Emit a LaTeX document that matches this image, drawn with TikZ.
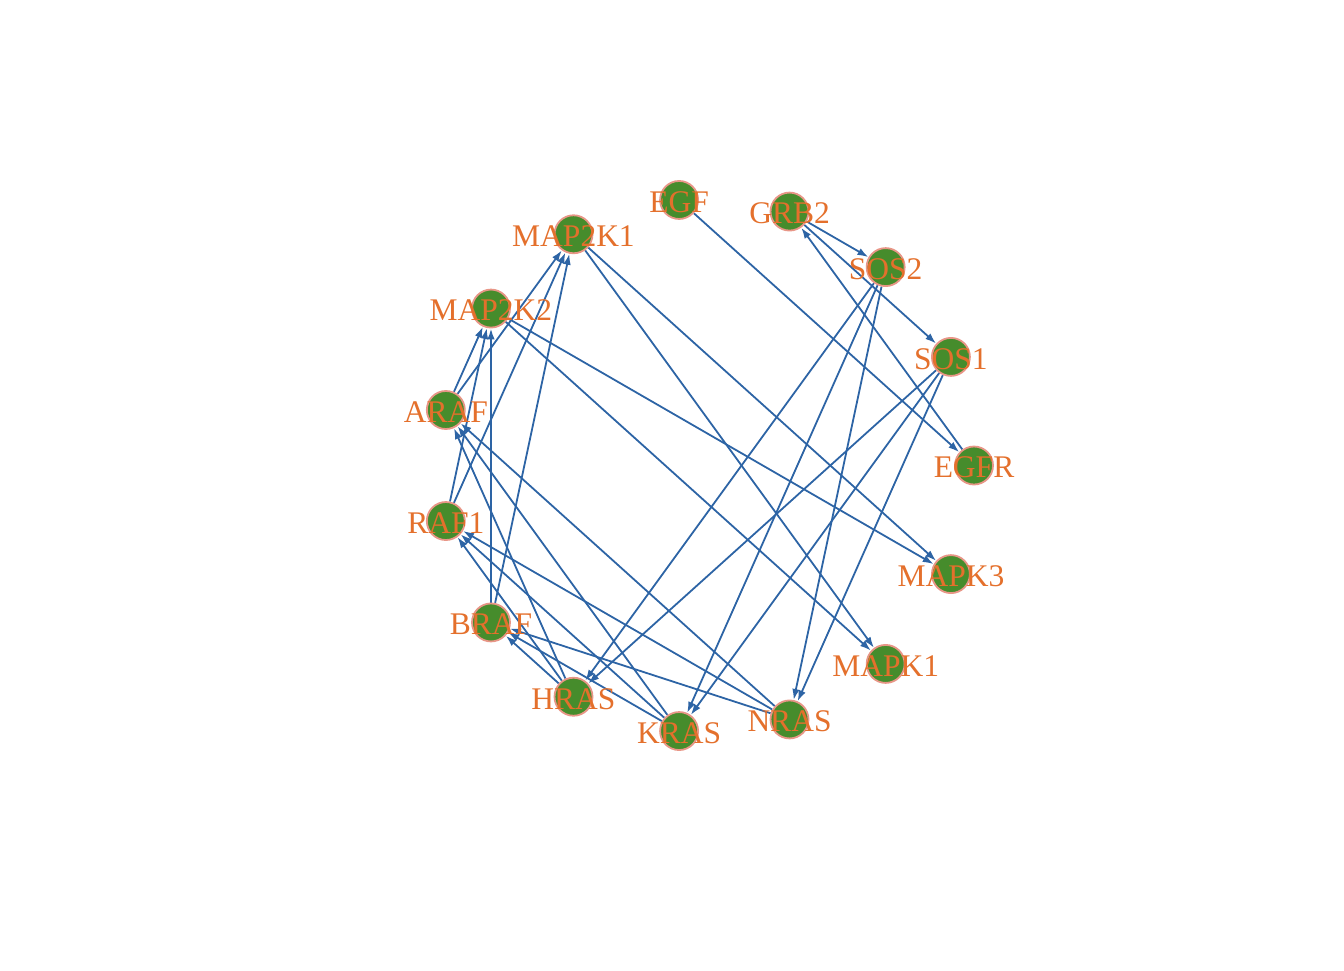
\documentclass[tikz,border=0pt]{standalone}
\usepackage{fontspec}
\setmainfont{Liberation Serif}
\usetikzlibrary{arrows.meta}
\pgfdeclarelayer{background}
\pgfsetlayers{background,main}
\definecolor{nodefill}{RGB}{70,140,44}
\definecolor{nodeedge}{RGB}{232,150,135}
\definecolor{labcol}{RGB}{228,112,44}
\definecolor{edgecol}{RGB}{45,100,165}
\tikzset{
  gene/.style={circle, draw=nodeedge, line width=1.8pt, fill=nodefill, minimum size=38pt, inner sep=0pt},
  genelab/.style={text=labcol, font=\fontsize{31.5}{31.5}\selectfont, inner sep=0pt, yshift=-2pt},
  link/.style={draw=edgecol, line width=1.8pt, -{Latex[length=11pt,width=7.5pt]}}
}
\begin{document}
\begin{tikzpicture}[x=1pt,y=-1pt]
\useasboundingbox (0,0) rectangle (1344,970);
\foreach \nm [count=\k from 0] in {EGF,GRB2,SOS2,SOS1,EGFR,MAPK3,MAPK1,NRAS,KRAS,HRAS,BRAF,RAF1,ARAF,MAP2K2,MAP2K1}{
  \pgfmathsetmacro{\th}{-6+24*\k}
  \node[gene, label={[genelab]center:\nm}] (\nm) at ({707+267*sin(\th)},{465.5-267*cos(\th)}) {};
}
\begin{pgfonlayer}{background}
\draw[link] (EGF) -- (EGFR);
\draw[link] (EGFR) -- (GRB2);
\draw[link] (GRB2) -- (SOS2);
\draw[link] (GRB2) -- (SOS1);
\draw[link] (SOS2) -- (HRAS);
\draw[link] (SOS2) -- (KRAS);
\draw[link] (SOS2) -- (NRAS);
\draw[link] (SOS1) -- (HRAS);
\draw[link] (SOS1) -- (KRAS);
\draw[link] (SOS1) -- (NRAS);
\draw[link] (HRAS) -- (ARAF);
\draw[link] (HRAS) -- (RAF1);
\draw[link] (HRAS) -- (BRAF);
\draw[link] (KRAS) -- (ARAF);
\draw[link] (KRAS) -- (RAF1);
\draw[link] (KRAS) -- (BRAF);
\draw[link] (NRAS) -- (ARAF);
\draw[link] (NRAS) -- (RAF1);
\draw[link] (NRAS) -- (BRAF);
\draw[link] (ARAF) -- (MAP2K1);
\draw[link] (ARAF) -- (MAP2K2);
\draw[link] (RAF1) -- (MAP2K1);
\draw[link] (RAF1) -- (MAP2K2);
\draw[link] (BRAF) -- (MAP2K1);
\draw[link] (BRAF) -- (MAP2K2);
\draw[link] (MAP2K1) -- (MAPK3);
\draw[link] (MAP2K1) -- (MAPK1);
\draw[link] (MAP2K2) -- (MAPK3);
\draw[link] (MAP2K2) -- (MAPK1);
\end{pgfonlayer}
\end{tikzpicture}
\end{document}
